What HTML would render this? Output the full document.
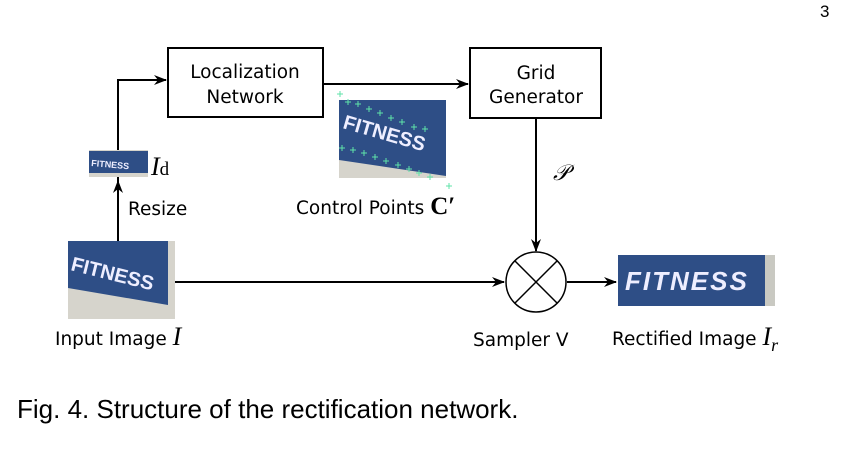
<!DOCTYPE html><html><head><style>body{margin:0;background:#fff}svg{display:block}text{font-family:"DejaVu Sans","Liberation Sans",sans-serif;font-size:18.5px;fill:#000}.m{font-family:"Liberation Serif",serif;font-style:italic;font-size:26px}.w{font-family:"Liberation Sans",sans-serif;font-weight:bold;fill:#eef;font-style:italic}</style></head><body>
<svg width="857" height="459" viewBox="0 0 857 459">
<defs><marker id="a" markerWidth="13" markerHeight="10" refX="12" refY="5" orient="auto" markerUnits="userSpaceOnUse"><path d="M0,0L13,5L0,10L4,5z" fill="#000"/></marker></defs>
<text x="820" y="17" style="font-family:'Liberation Sans',sans-serif;font-size:17px">3</text>
<g stroke="#000" stroke-width="2" fill="none">
<rect x="168" y="48" width="155" height="69" fill="#fff"/>
<rect x="470" y="48" width="131" height="70" fill="#fff"/>
<path d="M118,241V80H166" marker-end="url(#a)"/>
<path d="M118,241V181" marker-end="url(#a)"/>
<path d="M323,84H468" marker-end="url(#a)"/>
<path d="M536,119V251" marker-end="url(#a)"/>
<path d="M175,282H504" marker-end="url(#a)"/>
<path d="M567,282H616" marker-end="url(#a)"/>
<circle cx="536" cy="282" r="30" stroke-width="1.5"/>
<path d="M515,261L557,303M557,261L515,303" stroke-width="1.5"/>
</g>
<text x="245" y="78" text-anchor="middle">Localization</text>
<text x="245" y="103" text-anchor="middle">Network</text>
<text x="536" y="79" text-anchor="middle">Grid</text>
<text x="536" y="103" text-anchor="middle">Generator</text>
<rect x="68" y="241" width="107" height="78" fill="#d6d4cc"/>
<path d="M68,241H168V305L68,288Z" fill="#2e4e86"/>
<text class="w" x="70" y="270" transform="rotate(14 70 270)" style="font-size:20px;font-style:normal">FITNESS</text>
<rect x="89" y="150" width="59" height="27" fill="#d6d4cc"/>
<rect x="89" y="151" width="59" height="22" fill="#2e4e86"/>
<text class="w" x="91" y="166" transform="rotate(5 91 166)" style="font-size:9px;font-style:normal">FITNESS</text>
<text class="m" x="151" y="175">I<tspan style="font-style:normal;font-size:19px">d</tspan></text>
<text x="128" y="215">Resize</text>
<rect x="339" y="100" width="107" height="78" fill="#d6d4cc"/>
<path d="M339,100H446V176L339,160Z" fill="#2e4e86"/>
<text class="w" x="342" y="128" transform="rotate(16 342 128)" style="font-size:20px;font-style:normal">FITNESS</text>
<g stroke="#5fe3a8" stroke-width="1">
<path d="M337,94h6M340,91v6M345,102h6M348,99v6M355,104h6M358,101v6M366,109h6M369,106v6M377,113h6M380,110v6M388,118h6M391,115v6M399,122h6M402,119v6M411,127h6M414,124v6M422,129h6M425,126v6
M339,148h6M342,145v6M350,150h6M353,147v6M361,153h6M364,150v6M372,157h6M375,154v6M383,161h6M386,158v6M395,165h6M398,162v6M406,169h6M409,166v6M416,173h6M419,170v6M427,177h6M430,174v6M446,186h6M449,183v6"/>
</g>
<text x="296" y="214">Control Points <tspan style="font-family:'Liberation Serif',serif;font-weight:bold;font-size:25px">C′</tspan></text>
<text class="m" x="553" y="180" style="font-size:22px">𝒫</text>
<rect x="618" y="255" width="157" height="51" fill="#2e4e86"/>
<rect x="765" y="255" width="10" height="51" fill="#c9c9c2"/>
<text class="w" x="625" y="290" style="font-size:26px;letter-spacing:2px">FITNESS</text>
<text x="55" y="345">Input Image <tspan class="m">I</tspan></text>
<text x="473" y="346">Sampler V</text>
<text x="612" y="345">Rectified Image <tspan class="m">I</tspan><tspan class="m" dy="6" style="font-size:18px">r</tspan></text>
<text x="17" y="418" style="font-family:'Liberation Sans',sans-serif;font-size:26px">Fig. 4. Structure of the rectification network.</text>
</svg></body></html>
